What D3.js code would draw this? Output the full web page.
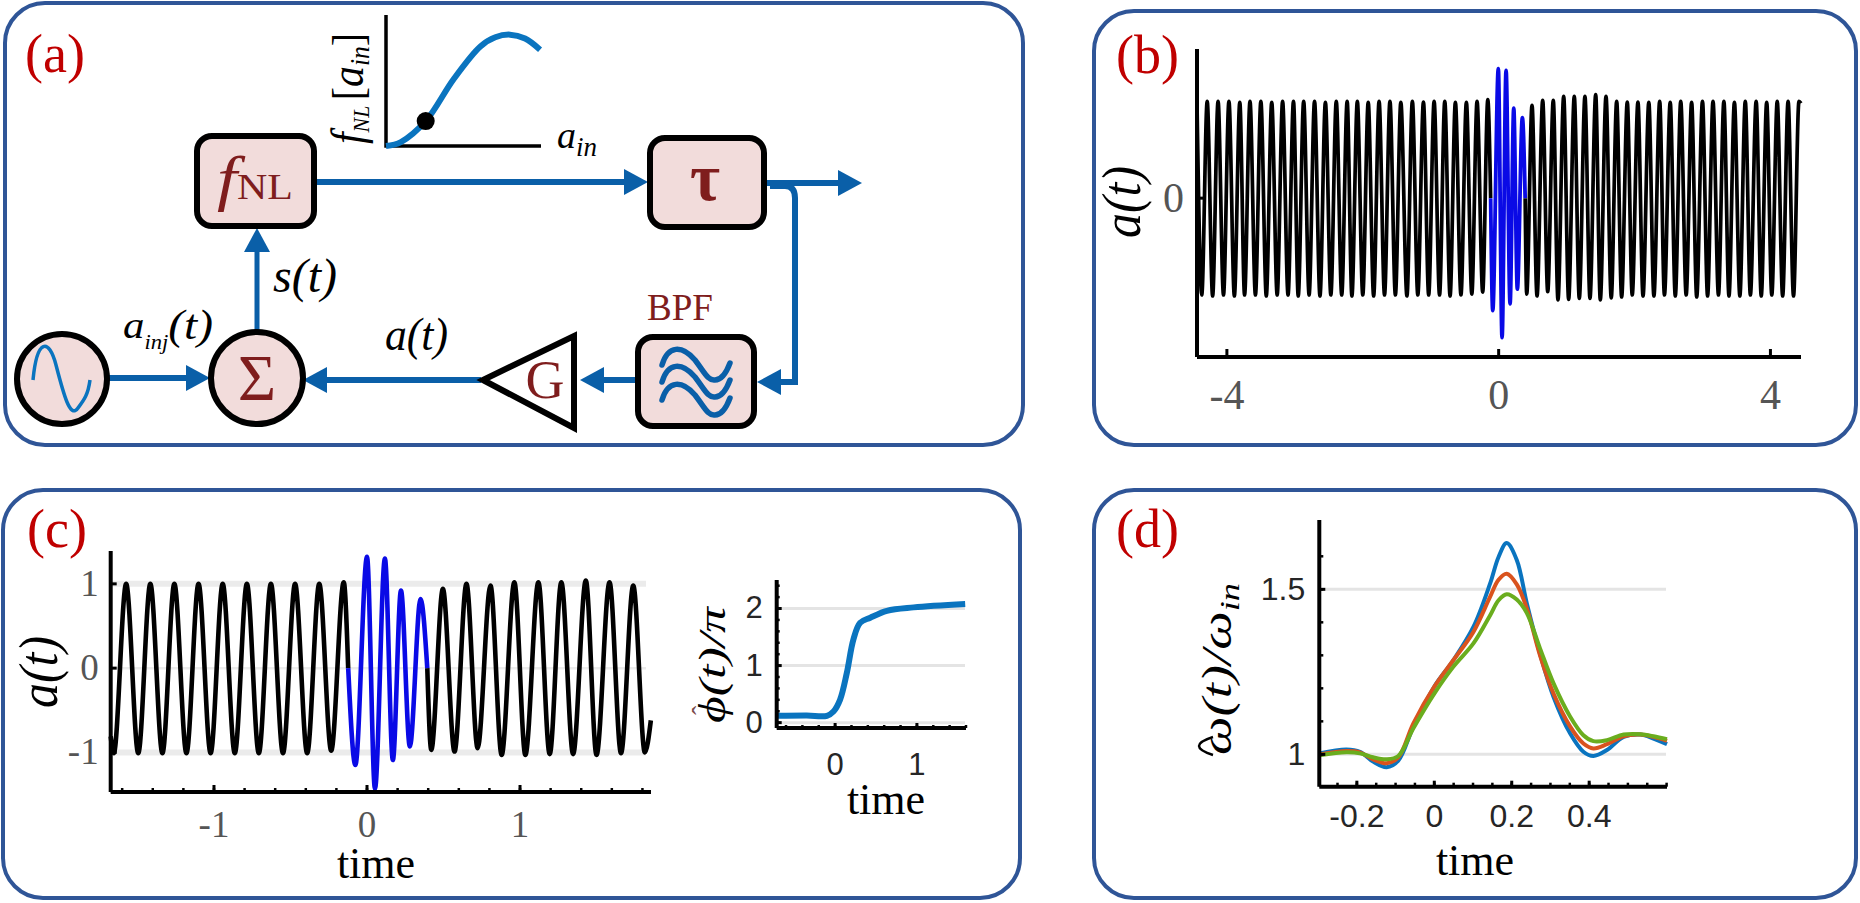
<!DOCTYPE html>
<html>
<head>
<meta charset="utf-8">
<script src="https://cdn.jsdelivr.net/npm/d3@7"></script>
<style>
  body { margin: 0; background: #fff; }
  svg { display: block; }
  text { font-family: "Liberation Serif", serif; }
</style>
</head>
<body>
<div id="chart"></div>
<script>
// panel (a) inset: nonlinearity sketch
var nlIn = [0, 0.096, 0.256, 0.436, 0.609, 0.705, 0.8, 0.897, 0.994];
var nlOut = [0, 0.03, 0.19, 0.51, 0.76, 0.83, 0.85, 0.82, 0.735];
var nlDot = [0.256, 0.19];

// panel (b): turning points of the trace
var bBeforeT = [-4.44, -4.37, -4.29, -4.21, -4.13, -4.05, -3.97, -3.89, -3.81, -3.74, -3.66, -3.58, -3.5, -3.42, -3.34, -3.26, -3.18, -3.1, -3.02, -2.95, -2.87, -2.79, -2.71, -2.63, -2.55, -2.47, -2.39, -2.31, -2.23, -2.16, -2.08, -2, -1.92, -1.84, -1.76, -1.68, -1.6, -1.52, -1.44, -1.35, -1.27, -1.19, -1.107, -1.03, -0.95, -0.87, -0.793, -0.715, -0.637, -0.555, -0.475, -0.395, -0.318, -0.235, -0.16, -0.118];
var bBeforeV = [0.98, -1, 1, -1.01, 1, -1, 1, -1.01, 0.99, -1, 1, -1, 1, -1.01, 0.99, -1, 1, -1, 1, -1.01, 1, -1, 1, -1.01, 0.99, -1, 1, -1, 1, -1.01, 1, -1, 0.99, -1.01, 1, -1, 1, -1, 0.99, -1.01, 1, -1, 0.993, -1, 1, -1, 1, -1.01, 0.99, -1, 0.99, -0.99, 1, -0.97, 1.017, 0];
var bBlueT = [-0.118, -0.087, -0.005, 0.05, 0.109, 0.168, 0.222, 0.275, 0.349, 0.39];
var bBlueV = [0, -1.162, 1.337, -1.44, 1.32, -1.09, 0.93, -0.94, 0.83, 0];
var bAfterT = [0.39, 0.413, 0.491, 0.565, 0.648, 0.722, 0.804, 0.873, 0.957, 1.03, 1.113, 1.187, 1.27, 1.344, 1.428, 1.496, 1.58, 1.657, 1.737, 1.81, 1.893, 1.966, 2.05, 2.125, 2.21, 2.285, 2.37, 2.44, 2.525, 2.6, 2.68, 2.76, 2.84, 2.915, 3, 3.075, 3.155, 3.235, 3.315, 3.39, 3.47, 3.55, 3.63, 3.705, 3.79, 3.865, 3.945, 4.02, 4.1, 4.18, 4.26, 4.34, 4.42, 4.45];
var bAfterV = [0, -0.99, 0.959, -1.01, 1.01, -0.966, 1.01, -1.05, 1.05, -1.045, 1.05, -1.034, 1.05, -1.034, 1.07, -1.05, 1.05, -1.03, 1, -1.02, 0.993, -1, 0.993, -1.01, 0.99, -1.01, 1, -1, 0.99, -1.01, 1, -1, 0.99, -1.02, 1, -1.01, 1, -1, 1, -1.01, 0.99, -1.01, 1, -1, 1, -1.01, 0.99, -1, 1, -1.01, 1, -1.01, 1, 0.98];

// panel (c)
var cBeforeT = [-1.675, -1.655, -1.574, -1.495, -1.416, -1.337, -1.259, -1.18, -1.101, -1.022, -0.943, -0.864, -0.785, -0.707, -0.628, -0.549, -0.47, -0.391, -0.312, -0.234, -0.152, -0.123];
var cBeforeV = [-0.81, -1.01, 1, -1.01, 1, -1.01, 1, -1.01, 1, -1.01, 1, -1.01, 1, -1.01, 1, -1.01, 1, -1.01, 1, -0.98, 1.02, 0];
var cBlueT = [-0.123, -0.076, 0, 0.052, 0.117, 0.169, 0.222, 0.28, 0.35, 0.394];
var cBlueV = [0, -1.15, 1.32, -1.43, 1.3, -1.09, 0.92, -0.93, 0.82, 0];
var cAfterT = [0.394, 0.42, 0.496, 0.572, 0.65, 0.723, 0.807, 0.88, 0.963, 1.035, 1.12, 1.194, 1.27, 1.347, 1.43, 1.5, 1.585, 1.66, 1.74, 1.816, 1.855];
var cAfterV = [0, -0.97, 0.94, -0.99, 1, -0.95, 0.98, -1.03, 1.02, -1.03, 1.02, -1.02, 1.02, -1.02, 1.04, -1.03, 1.02, -1.01, 0.98, -1, -0.62];

// panel (c) inset: phase
var phaseT = [-0.714, -0.347, -0.1, -0.02, 0.06, 0.143, 0.224, 0.306, 0.43, 0.633, 0.96, 1.59];
var phaseV = [0.12, 0.125, 0.12, 0.195, 0.4, 0.87, 1.46, 1.75, 1.84, 1.96, 2.02, 2.08];

// panel (d): instantaneous frequency, three runs
var freqT = [-0.297, -0.227, -0.192, -0.158, -0.123, -0.093, -0.054, 0, 0.049, 0.101, 0.144, 0.166, 0.187, 0.213, 0.239, 0.273, 0.308, 0.351, 0.385, 0.411, 0.446, 0.489, 0.532, 0.566, 0.601];
var freqBlue = [1.003, 1.015, 1.008, 0.978, 0.961, 0.981, 1.084, 1.205, 1.285, 1.386, 1.517, 1.598, 1.64, 1.589, 1.457, 1.305, 1.174, 1.063, 1.008, 0.995, 1.013, 1.053, 1.06, 1.048, 1.031];
var freqOrange = [1, 1.01, 1.006, 0.985, 0.973, 0.991, 1.094, 1.205, 1.285, 1.371, 1.477, 1.529, 1.547, 1.515, 1.442, 1.3, 1.184, 1.084, 1.033, 1.018, 1.031, 1.055, 1.06, 1.053, 1.041];
var freqGreen = [0.997, 1.006, 1.003, 0.991, 0.985, 0.995, 1.079, 1.184, 1.265, 1.336, 1.421, 1.467, 1.485, 1.469, 1.428, 1.321, 1.215, 1.114, 1.058, 1.04, 1.043, 1.06, 1.061, 1.055, 1.046];

var ink = '#000', pink = '#f2dcdb', wire = '#0a5fa8', darkRed = '#7f1d1d', panelRed = '#c00000';
var matBlue = '#0a74bf', pure = '#0a0ae6', grey = '#555', panelEdge = '#2f5597';

var svg = d3.select('#chart').append('svg')
    .attr('width', 1860)
    .attr('height', 903);

// rounded panels, drawn first
[[5, 3, 1018, 442], [1094, 11, 762, 434], [3, 490, 1017, 408], [1094, 490, 762, 408]].forEach(function (p) {
    svg.append('rect')
        .attr('x', p[0]).attr('y', p[1])
        .attr('width', p[2]).attr('height', p[3])
        .attr('rx', 40).attr('ry', 40)
        .attr('fill', '#fff')
        .attr('stroke', panelEdge)
        .attr('stroke-width', 4);
});

function label(x, y, parts, opts) {
    opts = opts || {};
    var t = svg.append('text')
        .attr('fill', opts.fill || ink)
        .attr('text-anchor', opts.anchor || 'start');
    if (opts.rotate) t.attr('transform', 'translate(' + x + ',' + y + ') rotate(-90)');
    else t.attr('x', x).attr('y', y);
    if (opts.length) t.attr('textLength', opts.length).attr('lengthAdjust', 'spacingAndGlyphs');
    parts.forEach(function (p) {
        var s = t.append('tspan')
            .text(p[0])
            .attr('font-size', p[1])
            .attr('font-style', p[2] ? 'italic' : 'normal');
        if (p[3]) s.attr('dy', p[3]);
    });
    return t;
}

function panelTag(x, y, s) {
    label(x, y, [[s, 54]], {fill: panelRed});
}

panelTag(25, 72, '(a)');
panelTag(1116, 73, '(b)');
panelTag(27, 547, '(c)');
panelTag(1116, 547, '(d)');

// straight wire with a filled head at its end
function arrow(x1, y1, x2, y2, width) {
    var len = Math.hypot(x2 - x1, y2 - y1),
        ux = (x2 - x1) / len, uy = (y2 - y1) / len,
        bx = x2 - ux * 24, by = y2 - uy * 24;
    svg.append('line')
        .attr('x1', x1).attr('y1', y1).attr('x2', bx).attr('y2', by)
        .attr('stroke', wire).attr('stroke-width', width || 6);
    svg.append('polygon')
        .attr('points', [[x2, y2], [bx - uy * 13, by + ux * 13], [bx + uy * 13, by - ux * 13]].join(' '))
        .attr('fill', wire);
}

function box(x, y, w, h) {
    svg.append('rect')
        .attr('x', x).attr('y', y).attr('width', w).attr('height', h)
        .attr('rx', 15).attr('ry', 15)
        .attr('fill', pink).attr('stroke', ink).attr('stroke-width', 6);
}

function disc(cx, cy, r) {
    svg.append('ellipse')
        .attr('cx', cx).attr('cy', cy).attr('rx', r).attr('ry', r)
        .attr('fill', pink).attr('stroke', ink).attr('stroke-width', 6);
}

// wires go under the blocks
arrow(316, 182, 648, 182);
arrow(766, 183, 862, 183);
svg.append('path')
    .attr('d', 'M770 186 H785 Q795 186 795 198 V382 H779')
    .attr('fill', 'none').attr('stroke', wire).attr('stroke-width', 6);
arrow(795, 382, 757, 382);
arrow(636, 380, 580, 380);
arrow(481, 380, 303, 380);
arrow(107, 378, 210, 378);
arrow(257, 332, 257, 228, 5);

box(197, 136, 117, 90);
box(650, 138, 114, 89);
box(638, 337, 116, 89);
disc(257, 378, 46);
disc(62, 379, 45);

svg.append('polygon')
    .attr('points', '483,380 574,336 574,428')
    .attr('fill', '#fff').attr('stroke', ink).attr('stroke-width', 6);

label(217, 199, [['f', 62, true], ['NL', 36]], {fill: darkRed, length: 76});
label(690, 200, [['τ', 68]], {fill: darkRed, length: 30}).attr('font-weight', 'bold');
label(647, 320, [['BPF', 38]], {fill: darkRed, length: 66});
label(545, 398, [['G', 54]], {fill: darkRed, anchor: 'middle'});
label(257, 400, [['Σ', 66]], {fill: darkRed, anchor: 'middle'});

// oscillator sine and filter wiggles
svg.append('path')
    .attr('d', 'M33 380 C37 338 49 338 56 365 C63 392 70 420 78 408 C84 400 88 395 90 380')
    .attr('fill', 'none').attr('stroke', matBlue).attr('stroke-width', 3.5);
[365, 382, 400].forEach(function (w) {
    svg.append('path')
        .attr('d', 'M662 ' + w + ' C668 ' + (w - 20) + ' 682 ' + (w - 20) + ' 695 ' + (w - 5) +
            ' C705 ' + (w + 8) + ' 708 ' + (w + 16) + ' 715 ' + (w + 15) +
            ' C722 ' + (w + 15) + ' 727 ' + (w + 6) + ' 730 ' + (w - 2))
        .attr('fill', 'none').attr('stroke', wire).attr('stroke-width', 5.5)
        .attr('stroke-linecap', 'round');
});

label(273, 292, [['s(t)', 48, true]], {length: 64});
label(123, 338, [['a', 38, true], ['inj', 20, true, 11], ['(t)', 42, true, -10]], {length: 90});
label(385, 350, [['a(t)', 46, true]], {length: 63});

// nonlinearity inset
var nlX = d3.scaleLinear().domain([0, 1]).range([386, 541]),
    nlY = d3.scaleLinear().domain([0, 1]).range([146, 15]);
svg.append('path')
    .attr('d', 'M' + nlX(0) + ' ' + nlY(1) + ' V' + nlY(0) + ' H' + nlX(1))
    .attr('fill', 'none').attr('stroke', ink).attr('stroke-width', 3.5);
svg.append('path')
    .attr('d', d3.line().x(function (d) { return nlX(d[0]); }).y(function (d) { return nlY(d[1]); })
        .curve(d3.curveCatmullRom)(d3.zip(nlIn, nlOut)))
    .attr('fill', 'none').attr('stroke', matBlue).attr('stroke-width', 6);
svg.append('circle')
    .attr('cx', nlX(nlDot[0])).attr('cy', nlY(nlDot[1])).attr('r', 9).attr('fill', ink);
label(363, 144, [['f', 46, true], ['NL', 24, true, 6], ['\u00a0', 24, false, -6], ['[', 44], ['a', 46, true], ['in', 28, true, 6], [']', 44, false, -6]], {rotate: true, length: 111});
label(557, 148, [['a', 38, true], ['in', 27, true, 8]]);

// shared axis drawing; tick labels optional
function xAxis(g, scale, yPos, vals, size, fmt, lift) {
    var a = d3.axisBottom(scale).tickValues(vals).tickSize(-size).tickSizeOuter(0).offset(0);
    a.tickFormat(fmt || '').tickPadding(lift || 0);
    var n = g.append('g').attr('transform', 'translate(0,' + yPos + ')').call(a);
    n.selectAll('.tick line').attr('stroke', ink).attr('stroke-width', size > 4 ? 3 : 2.5);
    if (!fmt) n.selectAll('text').remove();
    return n;
}

function yAxis(g, scale, xPos, vals, size, fmt, lift) {
    var a = d3.axisLeft(scale).tickValues(vals).tickSize(-size).tickSizeOuter(0).offset(0);
    a.tickFormat(fmt || '').tickPadding(lift || 0);
    var n = g.append('g').attr('transform', 'translate(' + xPos + ',0)').call(a);
    n.selectAll('.tick line').attr('stroke', ink).attr('stroke-width', size > 4 ? 3 : 2.5);
    if (!fmt) n.selectAll('text').remove();
    return n;
}

function spine(n, w) {
    n.select('.domain').attr('stroke', ink).attr('stroke-width', w || 4);
}

function tickText(n, size, fill, family) {
    n.selectAll('text')
        .attr('font-size', size)
        .attr('fill', fill)
        .style('font-family', family);
}

function grid(g, scale, vals, x1, x2, w, colour) {
    g.selectAll(null).data(vals).enter().append('line')
        .attr('x1', x1).attr('x2', x2)
        .attr('y1', scale).attr('y2', scale)
        .attr('stroke', colour || '#ebebeb')
        .attr('stroke-width', w);
}

function trace(g, x, y, ts, vs, colour, w, curve) {
    g.append('path')
        .attr('d', d3.line().x(function (d) { return x(d[0]); }).y(function (d) { return y(d[1]); })
            .curve(curve || d3.curveMonotoneX)(d3.zip(ts, vs)))
        .attr('fill', 'none')
        .attr('stroke', colour)
        .attr('stroke-width', w)
        .attr('stroke-linejoin', 'round');
}

var serif = '"Liberation Serif", serif', sans = '"Liberation Sans", sans-serif';
var plain = function (d) { return d; };

// panel (b)
var bX = d3.scaleLinear().domain([-4.44, 4.45]).range([1197, 1801]),
    bY = d3.scaleLinear().domain([-1.64, 1.54]).range([357, 49]);
var bG = svg.append('g');
trace(bG, bX, bY, bBeforeT, bBeforeV, ink, 3.7);
trace(bG, bX, bY, bAfterT, bAfterV, ink, 3.7);
trace(bG, bX, bY, bBlueT, bBlueV, pure, 3.8);
var bxa = xAxis(svg, bX, 357, [-4, 0, 4], 8, plain, 22);
spine(bxa);
tickText(bxa, 42, grey, serif);
var bya = yAxis(svg, bY, 1197, [0], 6, plain, 13);
spine(bya);
tickText(bya, 42, grey, serif);
label(1140, 238, [['a(t)', 54, true]], {rotate: true, length: 72});

// panel (c)
var cX = d3.scaleLinear().domain([-1.675, 1.856]).range([110.7, 651]),
    cY = d3.scaleLinear().domain([-1.47, 1.39]).range([792, 551]);
var cG = svg.append('g');
grid(cG, cY, [-1, 1], 112, 646, 6);
grid(cG, cY, [0], 112, 646, 2.5);
trace(cG, cX, cY, cBeforeT, cBeforeV, ink, 4.6);
trace(cG, cX, cY, cAfterT, cAfterV, ink, 4.6);
trace(cG, cX, cY, cBlueT, cBlueV, pure, 4.6);
var cMinor = d3.range(-16, 19, 2).map(function (d) { return d / 10; });
xAxis(svg, cX, 792, cMinor, 4);
var cxa = xAxis(svg, cX, 792, [-1, 0, 1], 7, plain, 19);
spine(cxa);
tickText(cxa, 37, grey, serif);
var cya = yAxis(svg, cY, 110.7, [-1, 0, 1], 6, plain, 12);
spine(cya);
tickText(cya, 37, grey, serif);
label(376, 878, [['time', 44]], {anchor: 'middle'});
label(57, 708, [['a(t)', 54, true]], {rotate: true, length: 72});

// panel (c) inset
var pX = d3.scaleLinear().domain([-0.714, 1.6]).range([776.7, 966]),
    pY = d3.scaleLinear().domain([-0.094, 2.5]).range([728, 580]);
var pG = svg.append('g');
grid(pG, pY, [0, 1, 2], 780, 965, 3, '#e4e4e4');
trace(pG, pX, pY, phaseT, phaseV, matBlue, 6, d3.curveCatmullRom);
var pxMinor = d3.range(-6, 17, 2).map(function (d) { return d / 10; });
var pyMinor = d3.range(0, 25, 2).map(function (d) { return d / 10; });
xAxis(svg, pX, 728, pxMinor, 3);
yAxis(svg, pY, 776.7, pyMinor, 3);
var pxa = xAxis(svg, pX, 728, [0, 1], 5, plain, 25);
spine(pxa);
tickText(pxa, 31, '#262626', sans);
var pya = yAxis(svg, pY, 776.7, [0, 1, 2], 5, plain, 14);
spine(pya);
tickText(pya, 31, '#262626', sans);
label(886, 814, [['time', 44]], {anchor: 'middle'});
label(725, 723, [['ϕ(t)/π', 38, true]], {rotate: true, length: 116});
label(711, 715, [['ˆ', 28]], {rotate: true, fill: '#7a4a4a'});

// panel (d)
var dX = d3.scaleLinear().domain([-0.297, 0.601]).range([1319.3, 1667]),
    dY = d3.scaleLinear().domain([0.902, 1.71]).range([786.7, 520]);
var dG = svg.append('g');
grid(dG, dY, [1, 1.5], 1325, 1666, 3, '#e4e4e4');
trace(dG, dX, dY, freqT, freqBlue, matBlue, 4, d3.curveCatmullRom);
trace(dG, dX, dY, freqT, freqOrange, '#d9531e', 4, d3.curveCatmullRom);
trace(dG, dX, dY, freqT, freqGreen, '#6aad1e', 4, d3.curveCatmullRom);
var dxMinor = d3.range(-5, 13).map(function (d) { return d / 20; });
var dyMinor = d3.range(10, 17).map(function (d) { return d / 10; });
xAxis(svg, dX, 786.7, dxMinor, 4);
yAxis(svg, dY, 1319.3, dyMinor, 4);
var dxa = xAxis(svg, dX, 786.7, [-0.2, 0, 0.2, 0.4], 6, plain, 18);
spine(dxa);
tickText(dxa, 32, '#262626', sans);
var dya = yAxis(svg, dY, 1319.3, [1, 1.5], 6, function (d) { return d === 1 ? '1' : '1.5'; }, 14);
spine(dya);
tickText(dya, 32, '#262626', sans);
label(1475, 875, [['time', 44]], {anchor: 'middle'});
label(1231, 755, [['ω', 42, true], ['(t)/ω', 42, true], ['in', 28, true, 8]], {rotate: true, length: 172});
svg.append('path')
    .attr('d', 'M1213 737 Q1185 746 1213 755')
    .attr('fill', 'none').attr('stroke', ink).attr('stroke-width', 2.5);
</script>
</body>
</html>
